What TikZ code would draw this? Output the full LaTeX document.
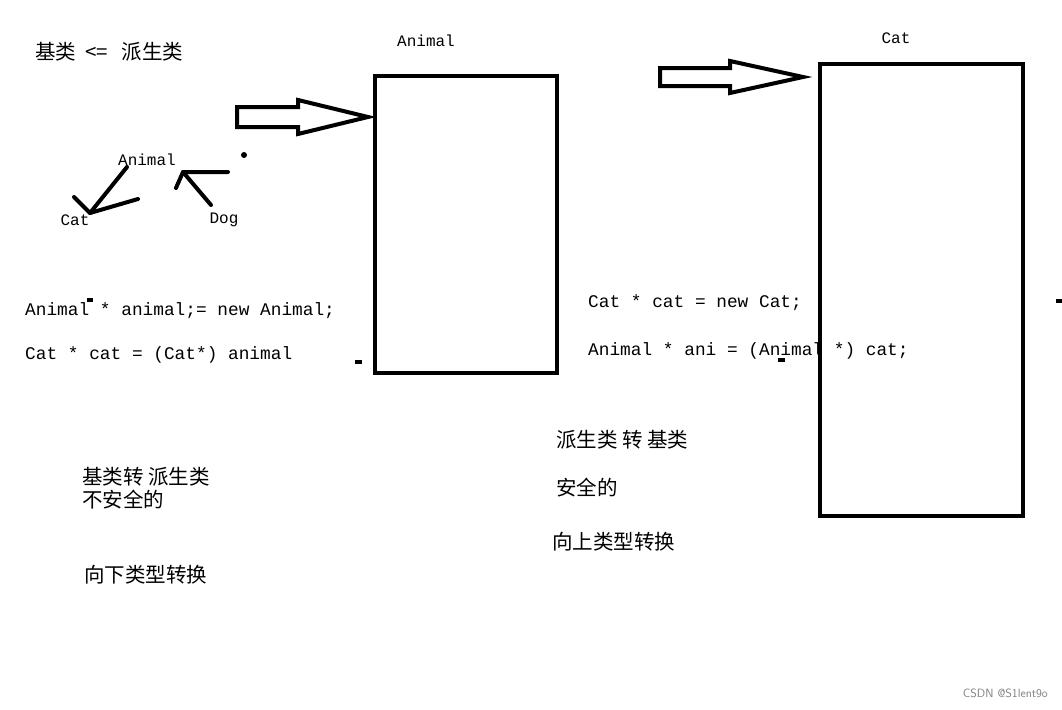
\documentclass[tikz,border=0pt]{standalone}
\usepackage{fontspec}
\setmonofont{Liberation Mono}
\newfontfamily\cjk{Noto Sans CJK SC}
\begin{document}
\begin{tikzpicture}[x=1pt,y=-1pt,
  box/.style={draw=black,line width=4pt},
  blockarrow/.style={draw=black,line width=4pt,fill=white,line join=miter},
  hand/.style={line width=4pt,line cap=round,line join=round},
  code/.style={anchor=west,inner sep=0pt,font=\ttfamily\fontsize{17.8}{20}\selectfont},
  zh/.style={anchor=west,inner sep=0pt,font=\cjk\fontsize{20.5}{22}\selectfont},
  lbl/.style={inner sep=0pt,font=\ttfamily\fontsize{16}{18}\selectfont}]
\fill[white] (0,0) rectangle (1062,709);
\useasboundingbox (0,0) rectangle (1062,709);
% code
\node[code] (c1) at (25,311) {Animal * animal;= new Animal;};
\node[code] (c2) at (25,355) {Cat * cat = (Cat*) animal};
\node[code] (c3) at (588,303) {Cat * cat = new Cat;};
\node[code] (c4) at (588,351) {Animal * ani = (Animal *) cat;};
% boxes
\node[box,minimum width=182pt,minimum height=297pt,inner sep=0pt] (animalbox) at (466,224.5) {};
\node[box,minimum width=203pt,minimum height=452pt,inner sep=0pt] (catbox) at (921.5,290) {};
\node[lbl] (animallbl) at (426,41) {Animal};
\node[lbl] (catlbl) at (896,38) {Cat};
% block arrows
\draw[blockarrow] (237,107)--(298,107)--(298,100)--(368,117)--(298,134)--(298,127)--(237,127)--cycle;
\draw[blockarrow] (660,68)--(730,68)--(730,61)--(803,77)--(730,93)--(730,86)--(660,86)--cycle;
% title
\node[zh] (title) at (35,52) {基类\ \ <=\ \ \ 派生类};
% small tree
\node[lbl] (tA) at (147,160) {Animal};
\node[lbl] (tC) at (75,220) {Cat};
\node[lbl] (tD) at (224,220) {Dog};
\draw[hand] (127,167)--(90,213);
\draw[hand] (74,197)--(90,213)--(138,199);
\draw[hand] (211,205)--(183,172);
\draw[hand] (176,188)--(183,172)--(228,172);
\fill (244,155) circle (3pt);
% marks
\fill (355,360) rectangle (362,364);
\fill (778,358) rectangle (785,362);
\fill (1056,299) rectangle (1062,303);
\fill (87,298) rectangle (93,302);
% chinese notes
\node[zh] (n1) at (82,477) {基类转\ 派生类};
\node[zh] (n2) at (82,500) {不安全的};
\node[zh] (n3) at (84,575) {向下类型转换};
\node[zh] (n4) at (556,440) {派生类\ 转\ 基类};
\node[zh] (n5) at (556,488) {安全的};
\node[zh] (n6) at (552,542) {向上类型转换};
\node[anchor=east,inner sep=0pt,text=gray,font=\sffamily\fontsize{12}{14}\selectfont] (wm) at (1048,693) {CSDN @S1lent9o};
\end{tikzpicture}
\end{document}
